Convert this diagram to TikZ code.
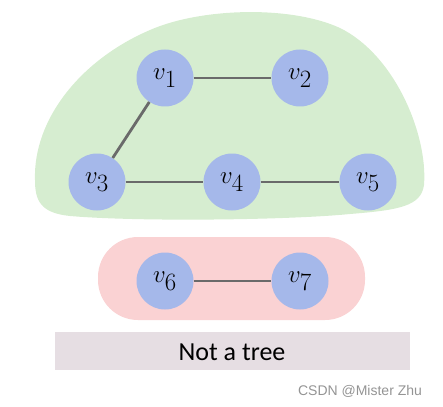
\documentclass[tikz,border=0pt]{standalone}
\usepackage{amsmath}
\usepackage{fontspec}
\newfontfamily\labelfont{Carlito}
\newfontfamily\markfont{Liberation Sans}
\usepackage{tikz}

\definecolor{blobgreen}{HTML}{D6EDD0}
\definecolor{blobpink}{HTML}{FAD2D3}
\definecolor{vertexblue}{HTML}{A5B8EA}
\definecolor{linkgray}{HTML}{6A6A6A}
\definecolor{bargray}{HTML}{E6DEE3}

\begin{document}
\begin{tikzpicture}[x=1pt, y=-1pt,
        vertex/.style={circle, fill=vertexblue, minimum size=57pt, inner sep=0pt, font=\fontsize{38}{40}\selectfont},
        link/.style={line width=2.8pt, linkgray}]
        \useasboundingbox (0,0) rectangle (443,406);

        % we draw the two component regions
        \fill[blobgreen] (35,180)
            .. controls (33,120) and (80,60) .. (150,30)
            .. controls (200,8) and (290,5) .. (340,28)
            .. controls (395,55) and (428,135) .. (424,185)
            .. controls (421,206) and (400,210) .. (350,214)
            .. controls (290,220) and (140,222) .. (70,216)
            .. controls (40,213) and (35,200) .. (35,180) -- cycle;
        \fill[blobpink, rounded corners=40pt] (98,237) rectangle (365,320);

        % we place the vertices
        \node[vertex] (v1) at (165,78) {$v_1$};
        \node[vertex] (v2) at (300,78) {$v_2$};
        \node[vertex] (v3) at (97,182) {$v_3$};
        \node[vertex] (v4) at (232,182) {$v_4$};
        \node[vertex] (v5) at (368,182) {$v_5$};
        \node[vertex] (v6) at (165,281) {$v_6$};
        \node[vertex] (v7) at (300,281) {$v_7$};

        % we connect them
        \draw[link] (v1) -- (v2);
        \draw[link] (v1) -- (v3);
        \draw[link] (v3) -- (v4);
        \draw[link] (v4) -- (v5);
        \draw[link] (v6) -- (v7);

        % we add the caption bar
        \fill[bargray] (55,332) rectangle (410,370);
        \node[font=\labelfont\fontsize{26}{28}\selectfont] (caption) at (232,352) {Not a tree};
        \node[font=\markfont\fontsize{14}{16}\selectfont, text=black!42] (mark) at (360,391) {CSDN @Mister Zhu};
    \end{tikzpicture}
\end{document}
